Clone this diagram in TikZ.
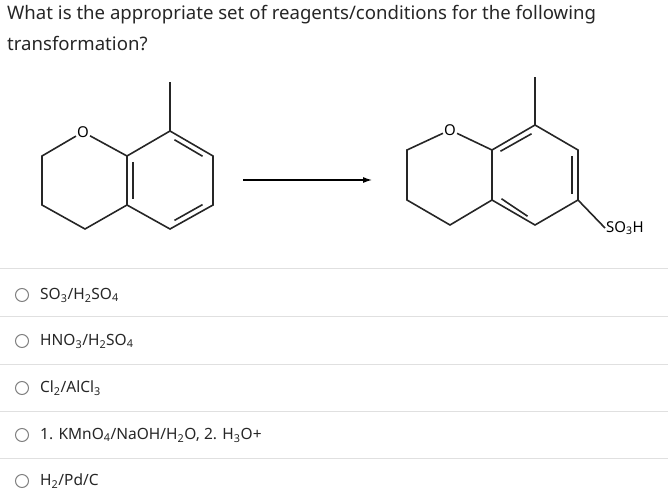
\documentclass[tikz,border=0pt]{standalone}
\usepackage{fontspec}
\setmainfont{Noto Sans}
\usetikzlibrary{calc,arrows.meta}
\begin{document}
\begin{tikzpicture}[x=1pt,y=-1pt,
  bond/.style={line width=1.6pt,black!85},
  txt/.style={anchor=west,inner sep=0pt,font=\fontsize{18.6}{21}\selectfont,text=black!85},
  opt/.style={anchor=west,inner sep=0pt,font=\fontsize{15.5}{18}\selectfont,text=black!85},
  radio/.style={circle,draw=black!50,line width=1pt,minimum size=13pt,inner sep=0pt},
  sep/.style={draw=black!12,line width=0.9pt},
  atom/.style={inner sep=1pt,font=\fontsize{15}{17}\selectfont}]
\useasboundingbox (0,0) rectangle (668,497);
\node[txt] (t1) at (7,15) {What is the appropriate set of reagents/conditions for the following};
\node[txt] (t2) at (7,44) {transformation?};
% left molecule
\node[atom] (O1) at (83,132) {O};
\coordinate (a1) at (42,156); \coordinate (a2) at (42,205); \coordinate (a3) at (85,229);
\coordinate (a4) at (127,205); \coordinate (a5) at (127,156);
\coordinate (b8) at (170,131); \coordinate (b7) at (213,156); \coordinate (b6) at (213,205);
\coordinate (b5) at (170,229); \coordinate (m1) at (170,82);
\draw[bond] (O1) -- (a1) -- (a2) -- (a3) -- (a4) -- (a5) -- (O1);
\draw[bond] (a5) -- (b8) -- (b7) -- (b6) -- (b5) -- (a4);
\draw[bond] (b8) -- (m1);
\draw[bond] ($(a5)!0.12!(a4)+(6,0)$) -- ($(a4)!0.12!(a5)+(6,0)$);
\draw[bond] ($(b8)!0.15!(b7)+(-2,5)$) -- ($(b7)!0.15!(b8)+(-4,4)$);
\draw[bond] ($(b6)!0.15!(b5)+(-4,-4)$) -- ($(b5)!0.15!(b6)+(-2,-5)$);
% arrow
\coordinate (r1) at (243,180); \coordinate (r2) at (372,180);
\draw[line width=1.2pt,-{Latex[length=9pt,width=6pt]}] (r1) -- (r2);
% right molecule
\node[atom] (O2) at (450,130) {O};
\coordinate (c1) at (407,150); \coordinate (c2) at (407,200); \coordinate (c3) at (450,225);
\coordinate (c4) at (492,200); \coordinate (c5) at (492,150);
\coordinate (d8) at (535,125); \coordinate (d7) at (578,150); \coordinate (d6) at (578,200);
\coordinate (d5) at (535,225); \coordinate (m2) at (535,77);
\node[atom,anchor=west] (S) at (605,228) {SO\textsubscript{3}H};
\draw[bond] (O2) -- (c1) -- (c2) -- (c3) -- (c4) -- (c5) -- (O2);
\draw[bond] (c5) -- (d8) -- (d7) -- (d6) -- (d5) -- (c4);
\draw[bond] (d8) -- (m2);
\draw[bond] (d6) -- (S.west);
\draw[bond] ($(c5)!0.15!(d8)+(2,5)$) -- ($(d8)!0.15!(c5)+(3,5)$);
\draw[bond] ($(d7)!0.12!(d6)+(-6,0)$) -- ($(d6)!0.12!(d7)+(-6,0)$);
\draw[bond] ($(d5)!0.15!(c4)+(-1,-5)$) -- ($(c4)!0.15!(d5)+(3,-5)$);
% separators
\foreach \y [count=\i] in {268,316,364,411,458} {\coordinate (sl\i) at (0,\y); \coordinate (sr\i) at (668,\y); \draw[sep] (sl\i) -- (sr\i);}
% options
\node[radio] (r1c) at (22,295) {}; \node[opt] (o1) at (40,295) {SO\textsubscript{3}/H\textsubscript{2}SO\textsubscript{4}};
\node[radio] (r2c) at (22,341) {}; \node[opt] (o2) at (40,341) {HNO\textsubscript{3}/H\textsubscript{2}SO\textsubscript{4}};
\node[radio] (r3c) at (22,388) {}; \node[opt] (o3) at (40,388) {Cl\textsubscript{2}/AlCl\textsubscript{3}};
\node[radio] (r4c) at (22,435) {}; \node[opt] (o4) at (40,435) {1. KMnO\textsubscript{4}/NaOH/H\textsubscript{2}O, 2. H\textsubscript{3}O+};
\node[radio] (r5c) at (22,481) {}; \node[opt] (o5) at (40,481) {H\textsubscript{2}/Pd/C};
\end{tikzpicture}
\end{document}
